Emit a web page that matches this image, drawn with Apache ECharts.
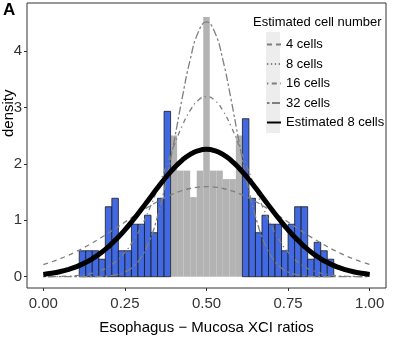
<!DOCTYPE html>
<html>
<head>
<meta charset="utf-8">
<script src="https://cdn.jsdelivr.net/npm/echarts@6/dist/echarts.min.js"></script>
<style>
html,body{margin:0;padding:0;background:#fff;}
#chart{width:402px;height:344px;}
</style>
</head>
<body>
<div id="chart"></div>
<script>
// ---- data ----
const binWidth = 0.02;
const leftCenters = [0.12,0.14,0.16,0.18,0.20,0.22,0.24,0.26,0.28,0.30,0.32,0.34,0.36,0.38];
const leftHeights = [0.46,0.46,0.46,0.31,1.24,1.39,0.46,0.46,0.93,0.93,1.09,0.78,1.39,2.93];
const midCenters = [0.40,0.42,0.44,0.46,0.48,0.50,0.52,0.54,0.56,0.58,0.60];
const midHeights = [2.50,1.88,1.88,1.41,1.88,4.60,1.88,1.88,1.73,1.73,2.50];
const rightCenters = [0.62,0.64,0.66,0.68,0.70,0.72,0.74,0.76,0.78,0.80,0.82,0.84,0.86,0.88];
const rightHeights = [2.80,1.39,0.78,1.09,0.93,0.93,0.46,0.93,1.24,1.24,0.31,0.61,0.46,0.31];

const curveX = [0,0.025,0.05,0.075,0.1,0.125,0.15,0.175,0.2,0.225,0.25,0.275,0.3,0.325,0.35,0.375,0.4,0.425,0.45,0.475,0.5,
  0.525,0.55,0.575,0.6,0.625,0.65,0.675,0.7,0.725,0.75,0.775,0.8,0.825,0.85,0.875,0.9,0.925,0.95,0.975,1];
const cells4 = [0.216,0.262,0.316,0.376,0.444,0.518,0.599,0.686,0.777,0.871,0.968,1.064,1.159,1.249,1.333,1.408,1.473,1.526,1.564,1.588,1.596,
  1.588,1.564,1.526,1.473,1.408,1.333,1.249,1.159,1.064,0.968,0.871,0.777,0.686,0.599,0.518,0.444,0.376,0.316,0.262,0.216];
const cells8 = [0.041,0.061,0.088,0.125,0.174,0.238,0.318,0.416,0.535,0.673,0.830,1.004,1.190,1.383,1.575,1.758,1.923,2.063,2.168,2.234,2.257,
  2.234,2.168,2.063,1.923,1.758,1.575,1.383,1.190,1.004,0.830,0.673,0.535,0.416,0.318,0.238,0.174,0.125,0.088,0.061,0.041];
const cells16 = [0.001,0.002,0.005,0.010,0.019,0.035,0.063,0.109,0.179,0.284,0.432,0.632,0.887,1.198,1.554,1.936,2.317,2.666,2.946,3.128,3.192,
  3.128,2.946,2.666,2.317,1.936,1.554,1.198,0.887,0.632,0.432,0.284,0.179,0.109,0.063,0.035,0.019,0.010,0.005,0.002,0.001];
const cells32 = [0,0,0,0,0,0.001,0.002,0.005,0.014,0.036,0.083,0.177,0.349,0.636,1.069,1.660,2.380,3.149,3.846,4.337,4.514,
  4.337,3.846,3.149,2.380,1.660,1.069,0.636,0.349,0.177,0.083,0.036,0.014,0.005,0.002,0.001,0,0,0,0,0];
const estimated8 = [0.041,0.061,0.088,0.125,0.174,0.238,0.318,0.416,0.535,0.673,0.830,1.004,1.190,1.383,1.575,1.758,1.923,2.063,2.168,2.234,2.257,
  2.234,2.168,2.063,1.923,1.758,1.575,1.383,1.190,1.004,0.830,0.673,0.535,0.416,0.318,0.238,0.174,0.125,0.088,0.061,0.041];

const xTicks = [0,0.25,0.5,0.75,1];
const yTicks = [0,1,2,3,4];
const legendTitle = 'Estimated cell number';
const xTitle = 'Esophagus \u2212 Mucosa XCI ratios';
const yTitle = 'density';
const panelTag = 'A';

// ---- build ----
function bins(centers, heights){
  return centers.map((c,i)=>[c-binWidth/2, c+binWidth/2, heights[i]]);
}
function pairs(ys){ return curveX.map((x,i)=>[x, ys[i]]); }

function rectRender(fill, stroke, lw){
  return function(params, api){
    const p0 = api.coord([api.value(0), 0]);
    const p1 = api.coord([api.value(1), api.value(2)]);
    return {
      type:'rect',
      shape:{x:p0[0], y:p1[1], width:p1[0]-p0[0], height:p0[1]-p1[1]},
      style:{fill:fill, stroke:stroke, lineWidth:lw}
    };
  };
}

const FONT = 'Liberation Sans, Arial, sans-serif';
const grayLine = '#7f7f7f';

const chart = echarts.init(document.getElementById('chart'), null, {renderer:'canvas'});
const option = {
  animation:false,
  backgroundColor:'#fff',
  grid:{left:27, top:3, width:359, height:285, show:true, borderColor:'#333', borderWidth:1, backgroundColor:'transparent'},
  xAxis:{
    type:'value', min:-0.05, max:1.05,
    axisLine:{show:false, onZero:false}, splitLine:{show:false},
    axisTick:{show:true, customValues:xTicks, length:3, lineStyle:{color:'#333'}},
    axisLabel:{customValues:xTicks, margin:8, color:'#333', fontSize:15, fontFamily:FONT,
      formatter:(v)=>v.toFixed(2)},
    name:xTitle, nameLocation:'middle', nameGap:32,
    nameTextStyle:{fontSize:15, color:'#000', fontFamily:FONT}
  },
  yAxis:{
    type:'value', min:-0.2, max:4.85,
    axisLine:{show:false, onZero:false}, splitLine:{show:false},
    axisTick:{show:true, customValues:yTicks, length:3, lineStyle:{color:'#333'}},
    axisLabel:{customValues:yTicks, margin:5, color:'#333', fontSize:15, fontFamily:FONT}
  },
  legend:{
    orient:'vertical', left:266, top:38, padding:0,
    itemWidth:14, itemHeight:14, itemGap:6.5,
    itemStyle:{opacity:0, borderWidth:0},
    textStyle:{fontSize:13, color:'#000', fontFamily:FONT},
    data:['4 cells','8 cells','16 cells','32 cells','Estimated 8 cells'],
    selectedMode:false
  },
  graphic:[
    {type:'rect', left:266, top:32, shape:{width:14, height:101}, style:{fill:'#ededed'}, z:-1, silent:true},
    {type:'text', left:253, top:16, style:{text:legendTitle, fontSize:13, fill:'#000', fontFamily:FONT}},
    {type:'text', left:3, top:2, style:{text:panelTag, fontSize:17, fontWeight:'bold', fill:'#000', fontFamily:FONT}},
    {type:'text', x:1, y:137, rotation:Math.PI/2, style:{text:yTitle, fontSize:15, fill:'#000', fontFamily:FONT}}
  ],
  series:[
    {type:'custom', name:'mid', data:bins(midCenters, midHeights), encode:{x:[0,1], y:2},
      renderItem:rectRender('#b3b3b3', null, 0), z:1, silent:true},
    {type:'custom', name:'left', data:bins(leftCenters, leftHeights), encode:{x:[0,1], y:2},
      renderItem:rectRender('#4169e1', '#1a1a1a', 0.8), z:2, silent:true},
    {type:'custom', name:'right', data:bins(rightCenters, rightHeights), encode:{x:[0,1], y:2},
      renderItem:rectRender('#4169e1', '#1a1a1a', 0.8), z:2, silent:true},
    {type:'line', name:'4 cells', data:pairs(cells4), smooth:true, showSymbol:false, symbol:'none', z:5,
      lineStyle:{color:grayLine, width:1.3, type:[5,4]}, itemStyle:{color:grayLine}},
    {type:'line', name:'8 cells', data:pairs(cells8), smooth:true, showSymbol:false, symbol:'none', z:5,
      lineStyle:{color:grayLine, width:1.3, type:[1.3,2.6]}, itemStyle:{color:grayLine}},
    {type:'line', name:'16 cells', data:pairs(cells16), smooth:true, showSymbol:false, symbol:'none', z:5,
      lineStyle:{color:grayLine, width:1.3, type:[1.3,3.5,5,3.5]}, itemStyle:{color:grayLine}},
    {type:'line', name:'32 cells', data:pairs(cells32), smooth:true, showSymbol:false, symbol:'none', z:5,
      lineStyle:{color:grayLine, width:1.3, type:[2.5,2.5,8,2.5]}, itemStyle:{color:grayLine}},
    {type:'line', name:'Estimated 8 cells', data:pairs(estimated8), smooth:true, showSymbol:false, symbol:'none', z:6,
      lineStyle:{color:'#000', width:5}, itemStyle:{color:'#000'}}
  ]
};
chart.setOption(option);
</script>
</body>
</html>
